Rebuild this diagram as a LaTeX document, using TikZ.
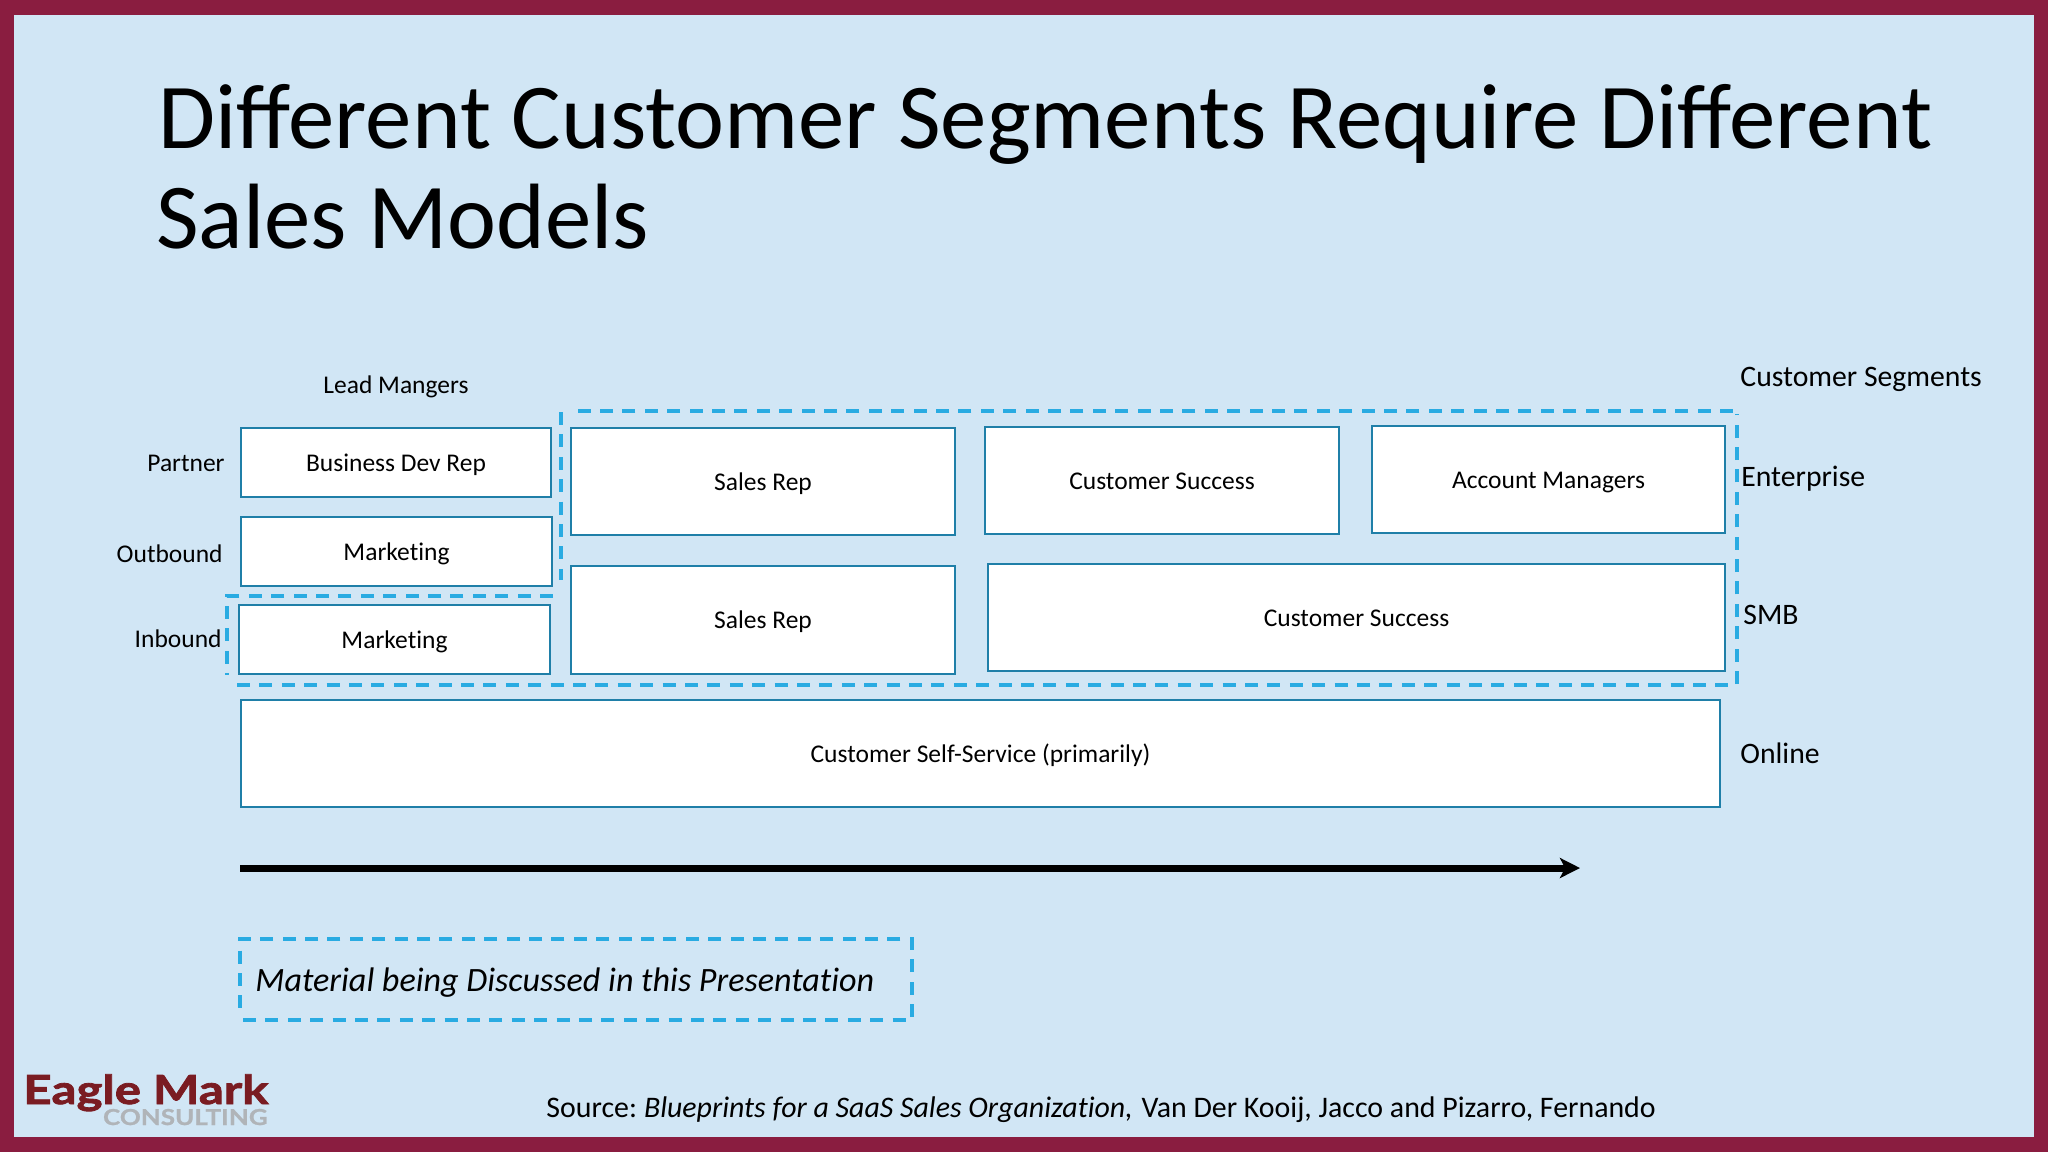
\documentclass[tikz,border=0pt]{standalone}
\usepackage{fontspec}
\setmainfont{Carlito}[Ligatures=NoCommon]
\newfontfamily\titlefont{Carlito}
\newfontfamily\logofont{Lato}[FakeBold=2,FakeStretch=1.23]
\newfontfamily\logosub{Lato}[FakeBold=1,FakeStretch=1.18]
\usetikzlibrary{arrows.meta}
\definecolor{slidebg}{HTML}{D1E6F5}
\definecolor{frameC}{HTML}{8A1D40}
\definecolor{boxC}{HTML}{1F7FA8}
\definecolor{dashC}{HTML}{29ABE2}
\definecolor{logoR}{HTML}{7A1C22}
\definecolor{logoG}{HTML}{B0B4B8}
\tikzset{
  x=0.5pt,y=-0.5pt,
  box/.style={draw=boxC,fill=white,line width=1.4pt,inner sep=0pt,font=\fontsize{12.75}{15}\selectfont,text height=11.5pt,text depth=3pt,align=center},
  dashbox/.style={draw=dashC,line width=1.6pt,dash pattern=on 6.5pt off 4.7pt},
  small/.style={inner sep=0pt,font=\fontsize{12.75}{15}\selectfont},
  large/.style={inner sep=0pt,font=\fontsize{14.85}{18}\selectfont},
  ttl/.style={inner sep=0pt,anchor=base west,font=\titlefont\fontsize{46.4}{56}\selectfont},
}
\newcommand{\segbox}[6]{%
  \pgfmathsetmacro{\bw}{(#4-#2)*0.5}\pgfmathsetmacro{\bh}{(#5-#3)*0.5}%
  \node[box,minimum width=\bw pt,minimum height=\bh pt] (#1) at ({(#2+#4)/2},{(#3+#5)/2}) {#6};}
\begin{document}
\begin{tikzpicture}
\useasboundingbox (0,0) rectangle (2048,1152);
\fill[frameC] (0,0) rectangle (2048,1152);
\fill[slidebg] (14,15) rectangle (2034,1137);
\node[ttl] (title1) at (158,148) {Different Customer Segments Require Different};
\node[ttl] (title2) at (156,248) {Sales Models};
\segbox{bdr}{241}{428}{551}{497}{Business Dev Rep}
\segbox{mkt1}{241}{517}{552}{586}{Marketing}
\segbox{mkt2}{239}{605}{550}{674}{Marketing}
\segbox{sr1}{571}{428}{955}{535}{Sales Rep}
\segbox{sr2}{571}{566}{955}{674}{Sales Rep}
\segbox{cs1}{985}{427}{1339}{534}{Customer Success}
\segbox{am}{1372}{426}{1725}{533}{Account Managers}
\segbox{cs2}{988}{564}{1725}{671}{Customer Success}
\segbox{self}{241}{700}{1720}{807}{Customer Self-Service (primarily)}
\draw[dashbox] (553,596) -- (227,596) -- (227,675);
\draw[dashbox] (237,685) -- (1728,685);
\draw[dashbox] (1737,684) -- (1737,414);
\draw[dashbox] (1733,411) -- (570,411);
\draw[dashbox] (561,412) -- (561,580);
\draw[dashbox] (243,1020) -- (912,1020) -- (912,939) -- (240,939) -- (240,1013);
\node[small,anchor=base] (lead) at (396,393) {Lead Mangers};
\node[small,anchor=base east] (partner) at (225,471) {Partner};
\node[small,anchor=base east] (outb) at (223,562) {Outbound};
\node[small,anchor=base east] (inb) at (222,647) {Inbound};
\node[large,anchor=base west] (segs) at (1740,386) {Customer Segments};
\node[large,anchor=base west] (ent) at (1741,486) {Enterprise};
\node[large,anchor=base west] (smb) at (1743,624) {SMB};
\node[large,anchor=base west] (onl) at (1740,763) {Online};
\coordinate (arrS) at (240,868);
\coordinate (arrE) at (1580,868);
\draw[line width=3.5pt,-{Stealth[length=10pt,width=10pt,inset=2.5pt]}] (arrS) -- (arrE);
\node[inner sep=0pt,anchor=base west,font=\fontsize{17.05}{20}\selectfont\itshape] (legend) at (255,991) {Material being Discussed in this Presentation};
\node[inner sep=0pt,anchor=base west,font=\fontsize{14.93}{18}\selectfont] (src) at (546,1117) {Source:\kern-1pt{} \textit{Blueprints for a SaaS Sales Organization,}\kern1pt{} Van Der Kooij, Jacco and Pizarro, Fernando};
\node[inner sep=0pt,anchor=base west,text=logoR,font=\logofont\bfseries\fontsize{20}{24}\selectfont] (logo1) at (23,1104) {Eagle Mark};
\node[inner sep=0pt,anchor=base east,text=logoG,font=\logosub\bfseries\fontsize{11}{13}\selectfont] (logo2) at (268,1125) {CONSULTING};
\end{tikzpicture}
\end{document}
